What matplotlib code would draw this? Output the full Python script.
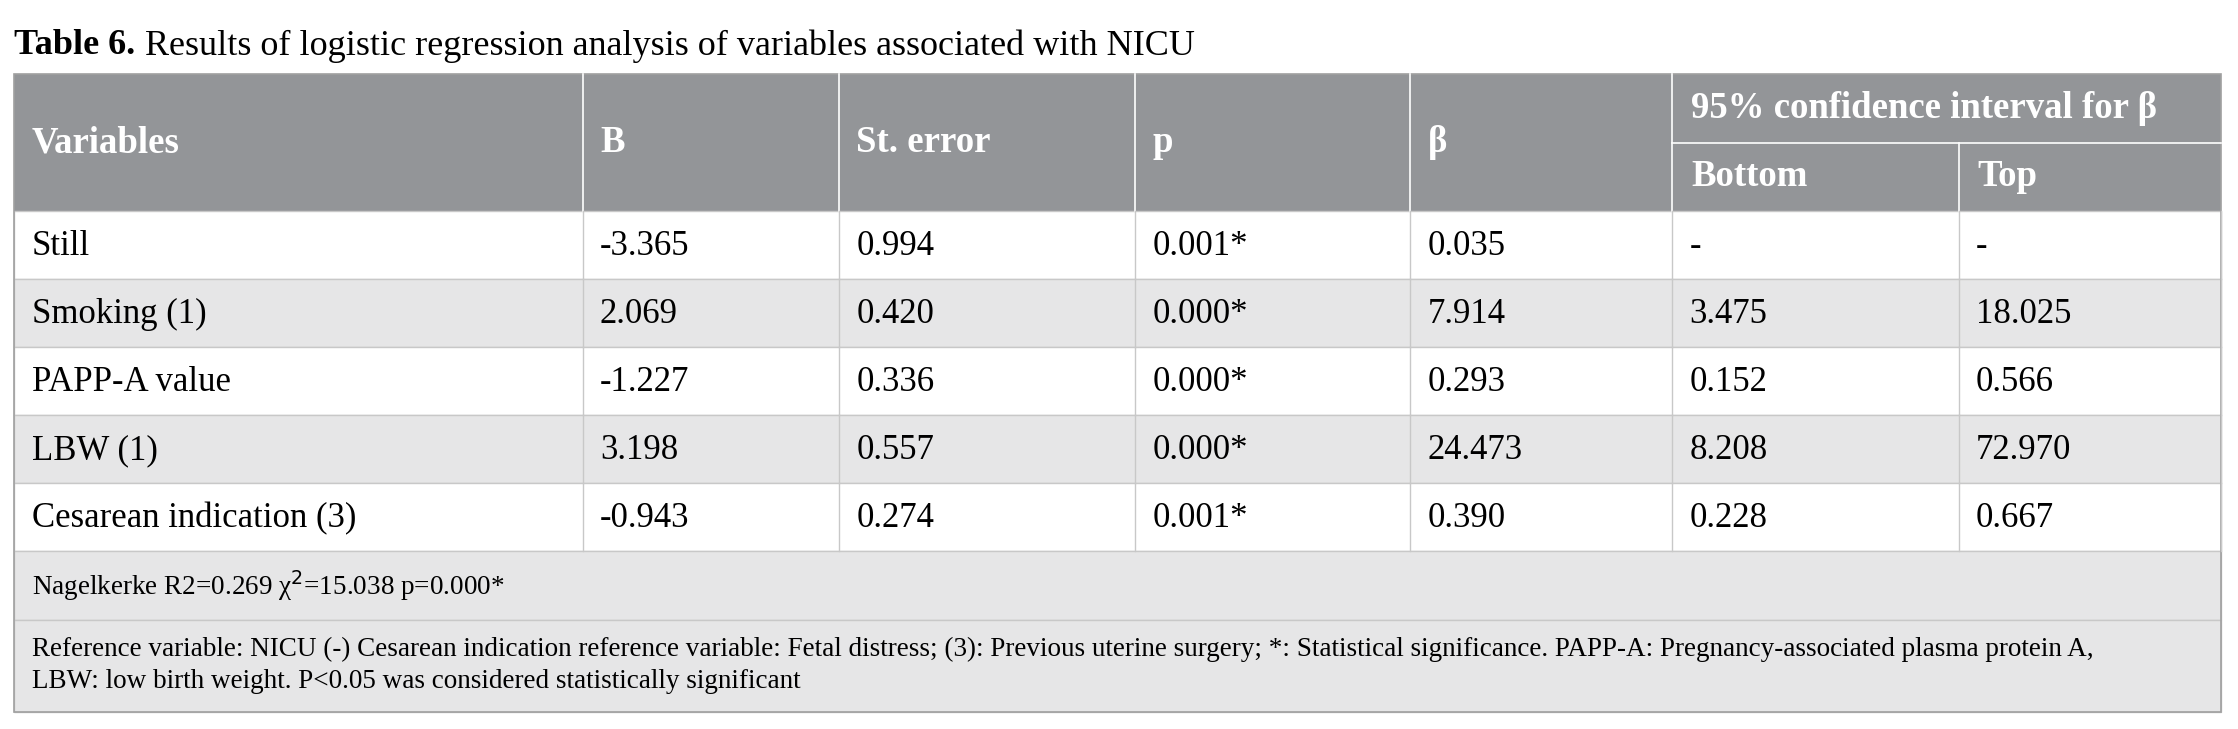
import matplotlib
matplotlib.use("Agg")
import matplotlib.pyplot as plt
from matplotlib.patches import Rectangle

title_bold = "Table 6."
title_rest = " Results of logistic regression analysis of variables associated with NICU"
headers = ["Variables", "B", "St. error", "p", "β"]
ci_header = "95% confidence interval for β"
ci_sub = ["Bottom", "Top"]
variables = ["Still", "Smoking (1)", "PAPP-A value", "LBW (1)", "Cesarean indication (3)"]
B = ["-3.365", "2.069", "-1.227", "3.198", "-0.943"]
st_error = ["0.994", "0.420", "0.336", "0.557", "0.274"]
p_vals = ["0.001*", "0.000*", "0.000*", "0.000*", "0.001*"]
beta = ["0.035", "7.914", "0.293", "24.473", "0.390"]
ci_bottom = ["-", "3.475", "0.152", "8.208", "0.228"]
ci_top = ["-", "18.025", "0.566", "72.970", "0.667"]
note1 = "Nagelkerke R2=0.269 χ$^2$=15.038 p=0.000*"
note2 = ("Reference variable: NICU (-) Cesarean indication reference variable: Fetal distress; (3): Previous uterine surgery; *: Statistical significance. PAPP-A: Pregnancy-associated plasma protein A,\n"
         "LBW: low birth weight. P<0.05 was considered statistically significant")

plt.rcParams['font.family'] = ['Liberation Serif', 'DejaVu Serif']
W, H = 1563, 509
fig = plt.figure(figsize=(22.38, 7.29), dpi=100)
ax = fig.add_axes([0, 0, 1, 1])
ax.set_xlim(0, W); ax.set_ylim(H, 0); ax.axis('off')

HDR = '#939598'; ALT = '#e6e6e7'; LINE = '#c8c8c8'
xs = [10, 407, 586, 793, 985, 1168, 1368, 1551]
top, hmid, hbot = 52, 100, 147
rh = 47.6
fs = 25
hfs = 26.5
nfs = 19.5

t = ax.text(10, 32, title_bold, fontsize=26, fontweight='bold', va='center', ha='left')
fig.canvas.draw()
bb = t.get_window_extent().transformed(ax.transData.inverted())
ax.text(bb.x1, 32, title_rest, fontsize=26, va='center', ha='left')

ax.add_patch(Rectangle((xs[0], top), xs[-1]-xs[0], hbot-top, fc=HDR, ec='none'))
for x in xs[1:-1]:
    y0 = hmid if x == 1368 else top
    ax.plot([x, x], [y0, hbot], color='white', lw=1.2)
ax.plot([1168, 1551], [hmid, hmid], color='white', lw=1.2)
for i, h in enumerate(headers):
    ax.text(xs[i]+12, (top+hbot)/2, h, fontsize=hfs, fontweight='bold', color='white', va='center')
ax.text(1181, (top+hmid)/2, ci_header, fontsize=hfs, fontweight='bold', color='white', va='center')
ax.text(1181, (hmid+hbot)/2, ci_sub[0], fontsize=hfs, fontweight='bold', color='white', va='center')
ax.text(1381, (hmid+hbot)/2, ci_sub[1], fontsize=hfs, fontweight='bold', color='white', va='center')

cols = [variables, B, st_error, p_vals, beta, ci_bottom, ci_top]
for r in range(len(variables)):
    y = hbot + r*rh
    ax.add_patch(Rectangle((xs[0], y), xs[-1]-xs[0], rh, fc=ALT if r % 2 else 'white', ec=LINE, lw=1))
    for c, col in enumerate(cols):
        ax.plot([xs[c+1], xs[c+1]], [y, y+rh], color=LINE, lw=1)
        ax.text(xs[c]+12, y+rh/2+1, col[r], fontsize=fs, va='center')
y = hbot + len(variables)*rh
ax.add_patch(Rectangle((xs[0], y), xs[-1]-xs[0], rh, fc=ALT, ec=LINE, lw=1))
ax.text(22, y+rh/2, note1, fontsize=nfs, va='center')
y2 = y + rh
ax.add_patch(Rectangle((xs[0], y2), xs[-1]-xs[0], 497-y2, fc=ALT, ec=LINE, lw=1))
ax.text(22, (y2+497)/2, note2, fontsize=nfs, va='center', linespacing=1.35)
ax.add_patch(Rectangle((xs[0], top), xs[-1]-xs[0], 497-top, fc='none', ec='#a0a0a0', lw=1.2))
fig.savefig('out.png', dpi=100)
